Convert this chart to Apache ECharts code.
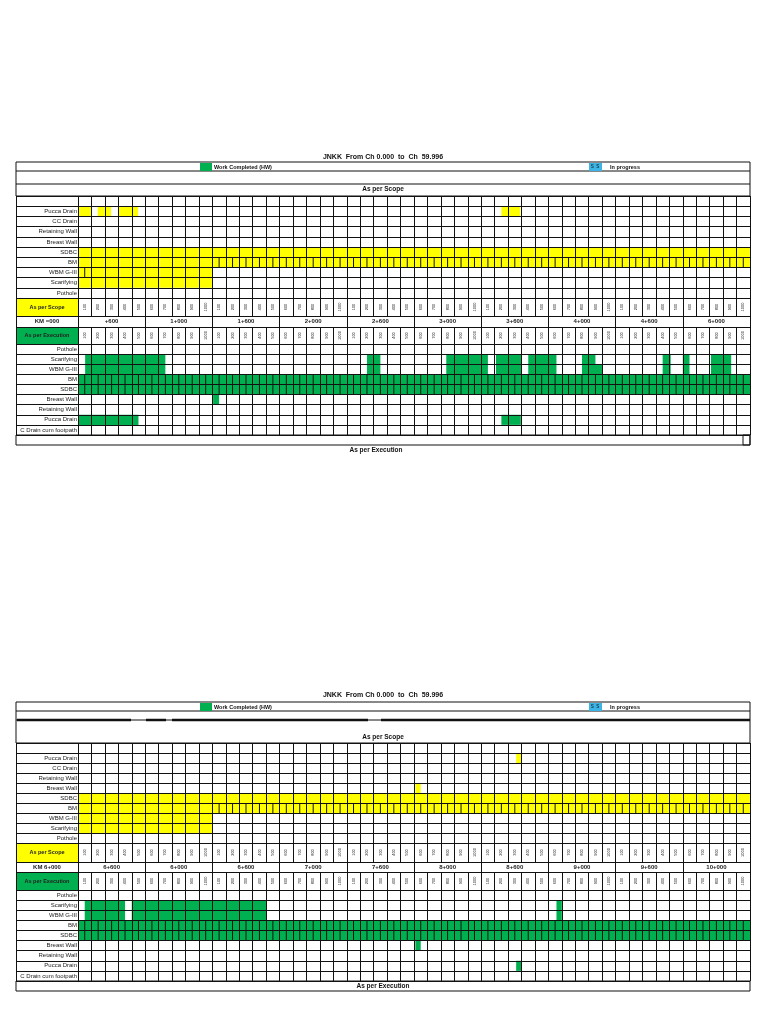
<!DOCTYPE html>
<html>
<head>
<meta charset="UTF-8">
<title></title>
<script src="https://cdn.jsdelivr.net/npm/echarts@6/dist/echarts.min.js"></script>
<style>html,body{margin:0;padding:0;background:#fff}</style>
</head>
<body>
<div id="box" style="width:768px;height:1024px;"></div>
<script type="text/javascript">
// ---- data ----
var title = 'JNKK  From Ch 0.000  to  Ch  59.996';
var stepLabels = ['100','200','300','400','500','600','700','800','900','1000'];
var scopeRows = ['', 'Pucca Drain', 'CC Drain', 'Retaining Wall', 'Breast Wall', 'SDBC', 'BM', 'WBM G-III', 'Scarifying', 'Pothole'];
var execRows = ['Pothole', 'Scarifying', 'WBM G-III', 'BM', 'SDBC', 'Breast Wall', 'Retaining Wall', 'Pucca Drain', 'C Drain cum footpath'];
var kmStart1 = 'KM =000';
var kmLabels1 = ['+600', '1+000', '1+600', '2+000', '2+600', '3+000', '3+600', '4+000', '4+600', '6+000'];
var kmStart2 = 'KM 6+000';
var kmLabels2 = ['6+600', '6+000', '6+600', '7+000', '7+600', '8+000', '8+600', '9+000', '9+600', '10+000'];
// [row, from chainage cell, to chainage cell, half-split]
var scopeFill1 = [[1,0,0.97],[1,1.46,2.46],[1,3.05,4.47],[1,31.5,32.9],[5,0,50],[6,0,10],[6,10,50,1],[7,0,1,1],[7,1,10],[8,0,10]];
var execFill1 = [[1,0.53,6.5],[1,21.5,22.5],[1,27.4,30.5],[1,31.1,33],[1,33.5,35.6],[1,37.5,38.5],[1,43.5,44.1],[1,45,45.5],[1,47.1,48.6],
  [2,0.53,6.5],[2,21.5,22.5],[2,27.4,30.5],[2,31.1,33],[2,33.5,35.6],[2,37.5,39],[2,43.5,44.1],[2,45,45.5],[2,47.1,48.6],
  [3,0,50,1],[4,0,50,1],[5,10.05,10.5],[7,0,4.5],[7,31.5,32.95]];
var scopeFill2 = [[1,32.6,33],[4,25.1,25.5],[5,0,50],[6,0,10],[6,10,50,1],[7,0,10],[8,0,10]];
var execFill2 = [[1,0.5,3.5],[1,4,14.05],[1,35.6,36],[2,0.5,3.5],[2,4,14.05],[2,35.6,36],[3,0,50,1],[4,0,50,1],[5,25.1,25.5],[7,32.6,33]];

var YELLOW = '#ffff00', GREEN = '#00b050', FONT = 'Liberation Sans';
var nCols = 50;

var grids = [], xAxes = [], yAxes = [], series = [], graphic = [];

function addGrid(left, width, top, height, rows, xInt, labels) {
    var gi = grids.length;
    grids.push({left: left, top: top, width: width, height: height, containLabel: false});
    xAxes.push({type: 'value', gridIndex: gi, min: 0, max: width > 100 ? nCols : 1, interval: xInt, z: 5,
        axisLabel: {show: false}, axisTick: {show: false}, axisLine: {show: false},
        splitLine: {show: true, lineStyle: {color: '#111', width: 1}}});
    var yi = yAxes.length;
    yAxes.push({type: 'value', gridIndex: gi, min: 0, max: rows, interval: 1, inverse: true, z: 5,
        axisLabel: {show: false}, axisTick: {show: false}, axisLine: {show: false},
        splitLine: {show: true, lineStyle: {color: '#111', width: 1}}});
    if (labels) {
        yAxes.push({type: 'category', gridIndex: gi, data: labels, inverse: true, position: 'left',
            axisLine: {show: false}, axisTick: {show: false}, splitLine: {show: false},
            axisLabel: {margin: 1, fontSize: 6, color: '#222', fontFamily: FONT}});
    }
    return {x: gi, y: yi};
}

function cellSeries(ax, items, rot, font) {
    return {
        type: 'custom', xAxisIndex: ax.x, yAxisIndex: ax.y, silent: true, z: 2,
        data: items.map(function (d) { return [d.r, d.x0, d.x1]; }),
        renderItem: function (params, api) {
            var d = items[params.dataIndex];
            var p0 = api.coord([d.x0, d.r]), p1 = api.coord([d.x1, d.r + 1]);
            var ch = [];
            if (d.fill) ch.push({type: 'rect', shape: {x: p0[0], y: p0[1], width: p1[0] - p0[0], height: p1[1] - p0[1]}, style: {fill: d.fill}});
            if (d.split) {
                for (var k = Math.floor(d.x0) + 0.5; k < d.x1; k++) {
                    var q = api.coord([k, d.r]);
                    ch.push({type: 'line', shape: {x1: q[0], y1: p0[1], x2: q[0], y2: p1[1]}, style: {stroke: '#111', lineWidth: 1}, z2: 10});
                }
            }
            if (d.text) ch.push({type: 'text', x: (p0[0] + p1[0]) / 2, y: (p0[1] + p1[1]) / 2, rotation: rot ? Math.PI / 2 : 0,
                style: {text: d.text, fill: '#222', font: font, align: 'center', verticalAlign: 'middle'}, z2: 20});
            return {type: 'group', children: ch};
        }
    };
}

function fills(arr, color) {
    return arr.map(function (f) { return {r: f[0], x0: f[1], x1: f[2], split: f[3], fill: color}; });
}

function text(x, y, str, size, bold, align) {
    graphic.push({type: 'text', x: x, y: y, style: {text: str, font: (bold ? 'bold ' : '') + size + 'px ' + FONT, fill: '#111', align: align || 'center', verticalAlign: 'middle'}});
}
function box(x, y, w, h, fill, lw) {
    graphic.push({type: 'rect', shape: {x: x, y: y, width: w, height: h}, style: {fill: fill || 'none', stroke: '#111', lineWidth: lw == null ? 1 : lw}});
}
function hline(x1, x2, y, w) {
    graphic.push({type: 'line', shape: {x1: x1, y1: y, x2: x2, y2: y}, style: {stroke: '#111', lineWidth: w || 1}});
}

function panel(p) {
    var L = 16, M = 78, W = 672;
    // header block
    text(383, p.title, title, 7, true);
    box(L, p.top, 734, p.scope - p.top);
    hline(L, 750, p.row1);
    hline(L, 750, p.row2);
    graphic.push({type: 'rect', shape: {x: 200, y: p.top + 1, width: 12, height: 8}, style: {fill: GREEN}});
    text(214, p.top + 5, 'Work Completed (HW)', 5.5, true, 'left');
    graphic.push({type: 'rect', shape: {x: 589, y: p.top + 1, width: 13, height: 8}, style: {fill: '#3cb4e6'}});
    text(595, p.top + 5, 'S  S', 4.5, false);
    text(610, p.top + 5, 'In progress', 5.5, true, 'left');
    text(383, p.scopeText, 'As per Scope', 6.5, true);
    if (p.thick) p.thick.forEach(function (s) { hline(s[0], s[1], p.row2, 2.5); });

    // scope rows
    var sl = addGrid(L, M - L, p.scope, p.scopeH, scopeRows.length, 1);
    var sm = addGrid(M, W, p.scope, p.scopeH, scopeRows.length, 1, scopeRows);
    series.push(cellSeries(sm, fills(p.sFill, YELLOW)));

    // header rows
    var numItems = [];
    for (var i = 0; i < nCols; i++) numItems.push({r: 0, x0: i, x1: i + 1, text: stepLabels[i % 10]});
    var h1l = addGrid(L, M - L, p.h1[0], p.h1[1], 1, 1);
    series.push(cellSeries(h1l, [{r: 0, x0: 0, x1: 1, fill: YELLOW, text: 'As per Scope'}], false, 'bold 5.5px ' + FONT));
    var h1 = addGrid(M, W, p.h1[0], p.h1[1], 1, 1);
    series.push(cellSeries(h1, numItems, true, '4px ' + FONT));

    var kl = addGrid(L, M - L, p.km[0], p.km[1], 1, 1);
    series.push(cellSeries(kl, [{r: 0, x0: 0, x1: 1, text: p.kmStart}], false, 'bold 6px ' + FONT));
    var km = addGrid(M, W, p.km[0], p.km[1], 1, 5);
    series.push(cellSeries(km, p.kmLabels.map(function (s, j) { return {r: 0, x0: j * 5, x1: j * 5 + 5, text: s}; }), false, 'bold 6px ' + FONT));

    var h2l = addGrid(L, M - L, p.h2[0], p.h2[1], 1, 1);
    series.push(cellSeries(h2l, [{r: 0, x0: 0, x1: 1, fill: GREEN, text: 'As per Execution'}], false, 'bold 5.5px ' + FONT));
    var h2 = addGrid(M, W, p.h2[0], p.h2[1], 1, 1);
    series.push(cellSeries(h2, numItems, true, '4px ' + FONT));

    // execution rows
    var el = addGrid(L, M - L, p.exec[0], p.exec[1], execRows.length, 1);
    var em = addGrid(M, W, p.exec[0], p.exec[1], execRows.length, 1, execRows);
    series.push(cellSeries(em, fills(p.eFill, GREEN)));

    // tail row
    box(L, p.exec[0] + p.exec[1], 734, 10);
    if (p.tailInside) {
        text(383, p.exec[0] + p.exec[1] + 5, 'As per Execution', 6.5, true);
    } else {
        box(743, p.exec[0] + p.exec[1], 7, 10);
        text(376, p.exec[0] + p.exec[1] + 15, 'As per Execution', 6.5, true);
    }
}

panel({title: 157, top: 162, row1: 171, row2: 184, scopeText: 189, scope: 196, scopeH: 102,
    h1: [298, 18], km: [316, 11], h2: [327, 17], exec: [344, 91],
    sFill: scopeFill1, eFill: execFill1, kmStart: kmStart1, kmLabels: kmLabels1});
panel({title: 695, top: 702, row1: 711, row2: 720, scopeText: 737, scope: 743, scopeH: 100,
    h1: [843, 19], km: [862, 10], h2: [872, 18], exec: [890, 91], tailInside: true,
    thick: [[17, 131], [146, 166], [172, 368], [381, 750]],
    sFill: scopeFill2, eFill: execFill2, kmStart: kmStart2, kmLabels: kmLabels2});

var myChart = echarts.init(document.getElementById('box'));
myChart.setOption({
    animation: false,
    grid: grids,
    xAxis: xAxes,
    yAxis: yAxes,
    series: series,
    graphic: graphic
});
</script>
</body>
</html>
